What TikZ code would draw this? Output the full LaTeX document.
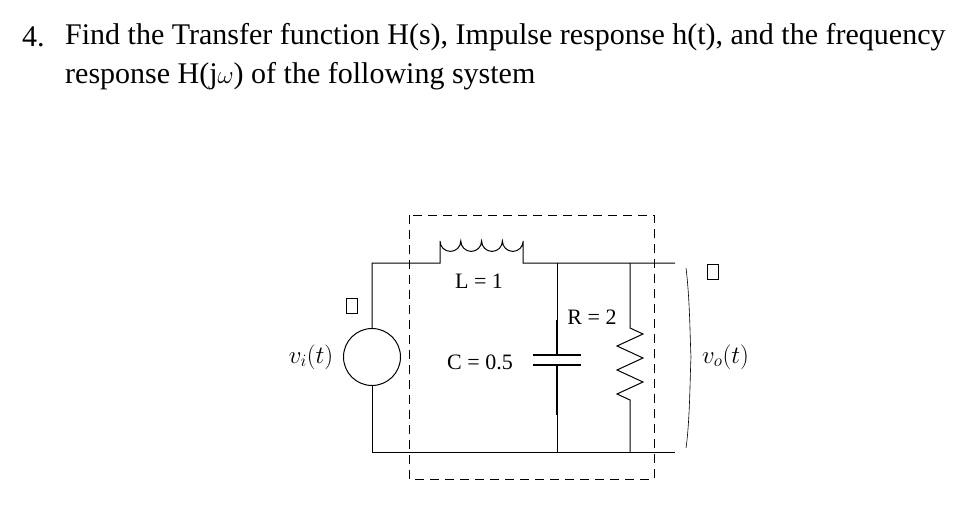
\documentclass[tikz,border=0pt]{standalone}
\usepackage{fontspec}
\setmainfont{Liberation Serif}
\begin{document}
\begin{tikzpicture}[x=1pt,y=-1pt,
  wire/.style={line width=1pt},
  lbl/.style={font=\fontsize{22}{26}\selectfont, inner sep=0pt},
  mlbl/.style={font=\fontsize{25}{28}\selectfont, inner sep=0pt},
  title/.style={font=\fontsize{30}{34}\selectfont, anchor=west, inner sep=0pt},
  glyphbox/.style={draw, line width=0.8pt, minimum width=11pt, minimum height=15pt, inner sep=0pt}]
\useasboundingbox (0,0) rectangle (975,520);
\node[title] (n4) at (22,37) {4.};
\node[title] (t1) at (65,37) {Find the Transfer function H(s), Impulse response h(t), and the frequency};
\node[title] (t2) at (65,76) {response H(j$\omega$) of the following system};
% dashed box
\draw[line width=1pt, dash pattern=on 9pt off 6pt] (409,215) rectangle (654,479);
\coordinate (tl) at (372,263); \coordinate (bl) at (372,452);
\coordinate (la) at (440,263); \coordinate (lb) at (523,263);
\coordinate (ct) at (557,263); \coordinate (cb) at (557,452);
\coordinate (rt) at (630,263); \coordinate (rb) at (630,452);
\coordinate (ot) at (675,263); \coordinate (ob) at (675,452);
\node[draw, circle, line width=1pt, minimum size=57pt, inner sep=0pt] (src) at (372,357) {};
\draw[wire] (src.north) -- (tl) -- (la) -- ++(0,-22)
  arc[start angle=180,end angle=0,radius=10.4] arc[start angle=180,end angle=0,radius=10.4]
  arc[start angle=180,end angle=0,radius=10.4] arc[start angle=180,end angle=0,radius=10.4]
  -- (lb) -- (ot);
\draw[wire] (src.south) -- (bl) -- (ob);
\draw[wire] (ct) -- (557,320);
\draw[line width=2.5pt] (557,320) -- (557,355) (533,355) -- (581,355) (533,365) -- (581,365) (557,365) -- (557,415);
\draw[wire] (557,415) -- (cb);
\draw[wire] (rt) -- (630,328) -- (643,334) -- (617,346) -- (643,358) -- (617,370) -- (643,382) -- (617,394) -- (630,400) -- (rb);
\node[lbl] (lL) at (479,281) {L = 1};
\node[lbl] (lR) at (592,317) {R = 2};
\node[lbl] (lC) at (480,362) {C = 0.5};
\node[mlbl] (vi) at (311,357) {$v_i(t)$};
\node[mlbl, anchor=west] (vo) at (702,357) {$v_o(t)$};
\draw[line width=0.6pt] (686,268) .. controls (690,300) and (690,340) .. (691,357) .. controls (690,375) and (690,420) .. (686,448);
\node[glyphbox] (b1) at (352,306) {};
\node[glyphbox] (b2) at (713,272) {};
\end{tikzpicture}
\end{document}
